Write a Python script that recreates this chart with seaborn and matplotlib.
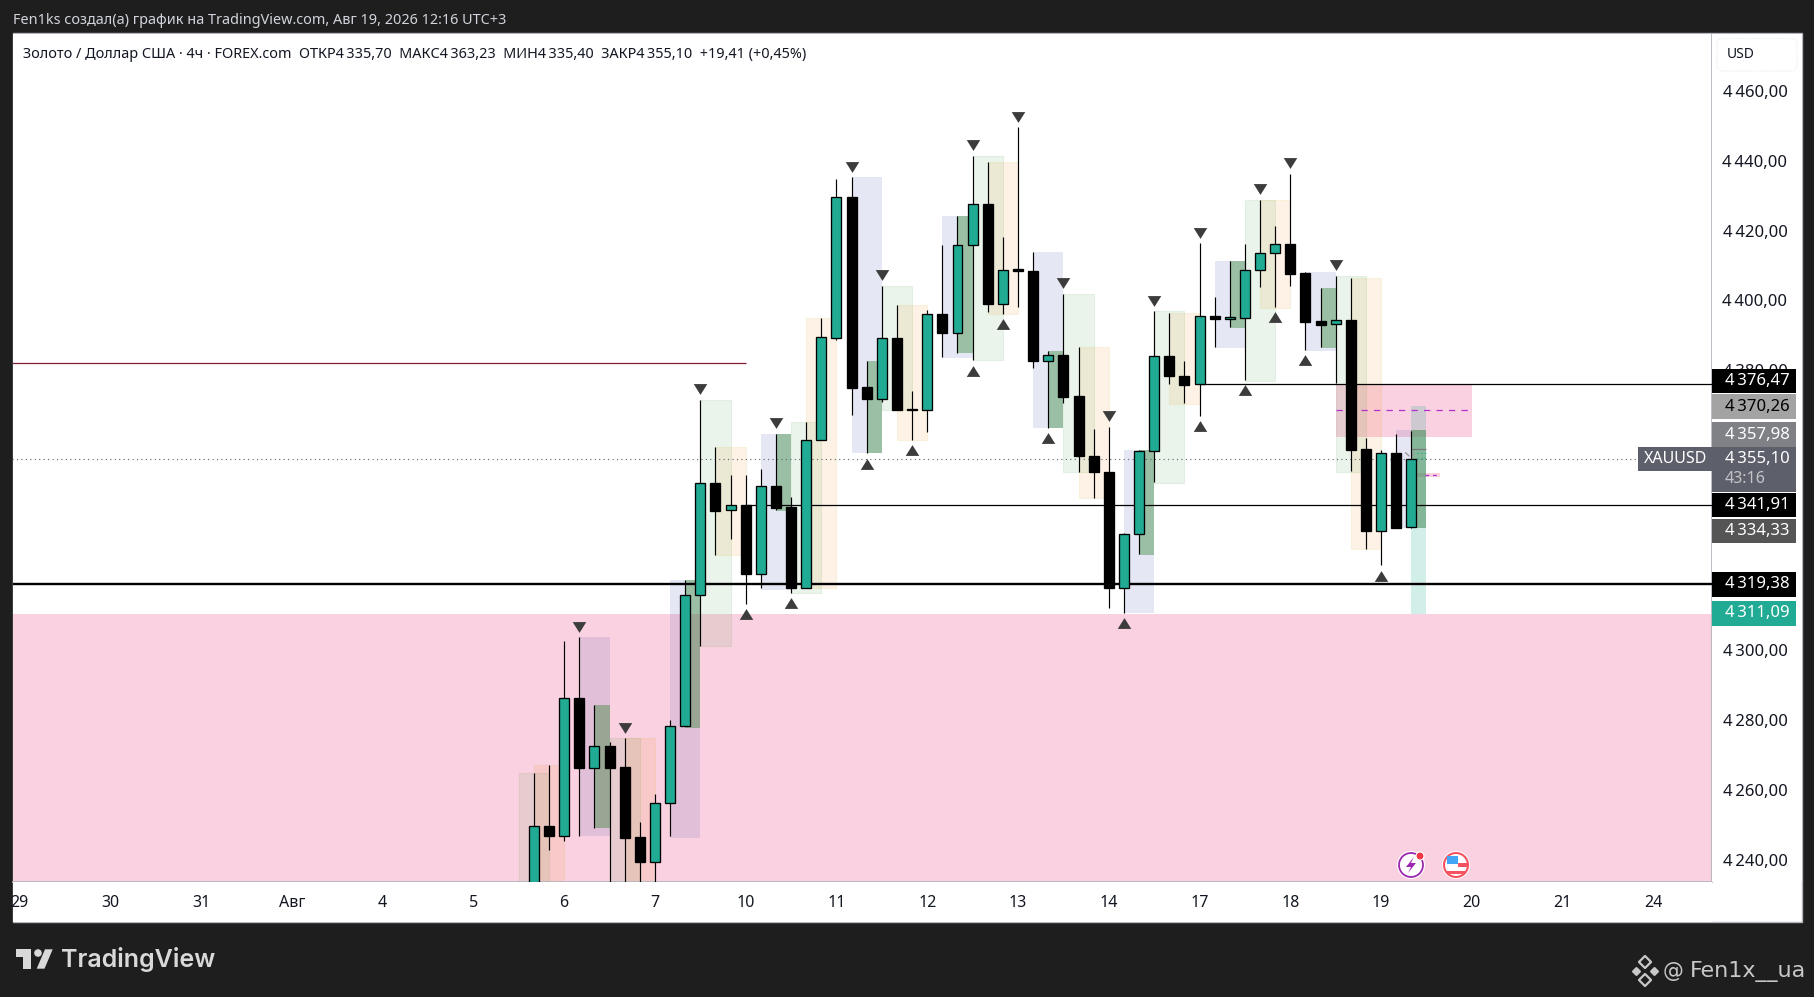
import matplotlib
matplotlib.use("Agg")
import matplotlib.pyplot as plt
from matplotlib.patches import Rectangle, Circle, Polygon, FancyBboxPatch
from matplotlib.transforms import ScaledTranslation
import seaborn as sns

# candles, 4h bars, first one sits at bar index 34
first_bar = 34
opens = [4228.0, 4250.1, 4247.2, 4286.7, 4266.9, 4273.0, 4267.0, 4247.0, 4240.0, 4256.7,
         4278.7, 4316.2, 4348.2, 4340.5, 4341.9, 4322.3, 4347.3, 4341.4, 4318.1, 4360.5,
         4389.8, 4430.0, 4375.7, 4372.4, 4389.6, 4369.4, 4369.1, 4396.5, 4391.2, 4416.2,
         4427.9, 4399.5, 4409.3, 4408.8, 4383.2, 4384.8, 4373.1, 4356.1, 4351.5, 4318.1,
         4333.6, 4357.3, 4384.5, 4378.9, 4376.5, 4396.0, 4395.0, 4395.5, 4409.1, 4413.9,
         4416.5, 4408.2, 4394.5, 4393.6, 4394.8, 4358.0, 4334.4, 4356.9, 4335.70]
highs = [4265.3, 4267.7, 4303.1, 4304.2, 4284.8, 4274.2, 4275.3, 4251.3, 4259.3, 4280.5,
         4320.5, 4372.0, 4358.5, 4350.6, 4350.6, 4352.3, 4362.3, 4344.3, 4365.6, 4395.4,
         4435.1, 4435.7, 4383.0, 4404.6, 4399.2, 4374.5, 4397.7, 4416.3, 4424.6, 4441.8,
         4440.0, 4418.6, 4450.0, 4414.2, 4385.9, 4402.3, 4387.2, 4363.7, 4364.3, 4334.0,
         4357.7, 4397.4, 4396.8, 4383.2, 4416.8, 4401.4, 4411.7, 4416.6, 4429.2, 4421.7,
         4436.6, 4408.5, 4404.0, 4407.5, 4406.9, 4361.1, 4357.7, 4362.3, 4363.23]
lows = [4225.0, 4243.2, 4246.0, 4247.4, 4249.6, 4225.0, 4225.0, 4228.0, 4230.0, 4247.2,
        4278.7, 4301.7, 4327.7, 4332.3, 4313.7, 4318.1, 4340.5, 4316.9, 4318.1, 4360.5,
        4389.2, 4367.7, 4356.8, 4371.5, 4369.2, 4360.6, 4362.7, 4384.3, 4385.4, 4383.4,
        4397.0, 4396.7, 4398.7, 4381.1, 4364.1, 4371.1, 4351.4, 4344.1, 4312.6, 4311.2,
        4328.0, 4348.4, 4376.6, 4371.1, 4367.5, 4387.2, 4392.9, 4377.7, 4404.4, 4398.7,
        4404.7, 4386.3, 4387.1, 4376.9, 4351.7, 4329.5, 4324.8, 4335.5, 4335.40]
closes = [4250.1, 4247.2, 4286.7, 4266.9, 4273.0, 4266.9, 4246.9, 4240.0, 4256.7, 4278.7,
          4316.2, 4348.2, 4340.3, 4341.9, 4322.3, 4347.3, 4341.1, 4318.1, 4360.5, 4389.9,
          4430.0, 4375.5, 4372.4, 4389.6, 4369.2, 4369.1, 4396.5, 4391.2, 4416.2, 4427.9,
          4399.5, 4409.1, 4408.9, 4383.2, 4384.8, 4372.9, 4356.1, 4351.5, 4318.1, 4333.6,
          4357.3, 4384.5, 4378.7, 4376.4, 4395.9, 4395.0, 4395.7, 4409.1, 4413.9, 4416.5,
          4408.1, 4394.4, 4393.5, 4394.8, 4357.8, 4334.4, 4356.8, 4335.5, 4355.10]

# swing markers, bar index
swing_high_bars = [37, 40, 45, 50, 55, 57, 63, 66, 69, 72, 75, 78, 82, 84, 87]
swing_low_bars = [48, 51, 56, 59, 63, 65, 68, 73, 78, 81, 83, 85, 90]

# shaded boxes: start bar, end bar, top price, bottom price
lavender_boxes = [(37, 39, 4304.2, 4247.2), (43, 45, 4320.5, 4246.9), (49, 51, 4362.3, 4317.8),
                  (55, 57, 4435.7, 4356.7), (61, 63, 4424.6, 4384.1), (67, 69, 4414.3, 4364.1),
                  (73, 75, 4357.7, 4311.1), (79, 81, 4411.7, 4386.9), (85, 87, 4408.6, 4386.1),
                  (91, 93, 4363.4, 4335.3)]
green_boxes = [(38, 39, 4284.8, 4249.6), (44, 45, 4320.5, 4278.3), (50, 51, 4362.3, 4340.3),
               (56, 57, 4383.0, 4356.7), (62, 63, 4424.6, 4385.4), (68, 69, 4385.9, 4364.1),
               (74, 75, 4357.7, 4327.8), (80, 81, 4411.7, 4392.7), (86, 87, 4404.0, 4386.9),
               (92, 93, 4363.4, 4335.3)]
mint_boxes = [(33, 35, 4265.4, 4225.0), (39, 41, 4275.3, 4225.0), (45, 47, 4372.0, 4301.7),
              (51, 53, 4365.6, 4316.7), (57, 59, 4404.6, 4369.1), (63, 65, 4441.8, 4383.4),
              (69, 71, 4402.2, 4351.3), (75, 77, 4397.4, 4348.2), (81, 83, 4429.2, 4377.5),
              (87, 89, 4407.5, 4351.5)]
cream_boxes = [(34, 36, 4267.7, 4225.0), (40, 42, 4275.3, 4225.0), (46, 48, 4358.5, 4327.6),
               (52, 54, 4395.4, 4318.2), (58, 60, 4399.2, 4360.5), (64, 66, 4440.0, 4396.5),
               (70, 72, 4387.2, 4343.9), (76, 78, 4396.8, 4370.9), (82, 84, 4429.2, 4398.4),
               (88, 90, 4406.9, 4329.3)]

# price scale tags: value, where the scale stacks it, background, text colour
price_tags = [(4376.47, 4377.4, "#000000", "#ffffff"), (4370.26, 4370.1, "#a3a3a3", "#000000"),
              (4357.98, 4362.1, "#7f8187", "#ffffff"), (4341.91, 4341.9, "#000000", "#ffffff"),
              (4334.33, 4334.5, "#555555", "#ffffff"), (4319.38, 4319.3, "#000000", "#ffffff"),
              (4311.09, 4311.0, "#22ab94", "#ffffff")]
last_price = 4355.10
price_ticks = [4240, 4260, 4280, 4300, 4380, 4400, 4420, 4440, 4460]
day_labels = ["29", "30", "31", "Авг", "4", "5", "6", "7", "10", "11", "12", "13", "14",
              "17", "18", "19", "20", "21", "24"]

BG = "#1e1e1e"
TEAL = "#22ab94"
GRID = "#b2b5be"
W, H = 1815, 997
DOWN_TRI = [(-1, 0.8), (1, 0.8), (0, -0.8)]
UP_TRI = [(-1, -0.8), (1, -0.8), (0, 0.8)]


def fig_rect(x0, y0, x1, y1):
    # pixel box (top-left origin) to figure fractions
    return [x0 / W, 1 - y1 / H, (x1 - x0) / W, (y1 - y0) / H]


def price_str(p):
    s = f"{p:.2f}".replace(".", ",")
    return s[0] + "\u2009" + s[1:]


def add_boxes(ax, boxes, color, alpha, edge=None):
    for b in boxes:
        ax.add_patch(Rectangle((b[0], b[3]), b[1] - b[0], b[2] - b[3], facecolor=color, alpha=alpha,
                               edgecolor=edge, linewidth=0.8 if edge else 0, zorder=2))


sns.set_theme(style="white")
plt.rcParams["font.family"] = ["Noto Sans", "DejaVu Sans"]

fig = plt.figure(figsize=(W / 100, H / 100), dpi=100, facecolor=BG)
fig.add_artist(Rectangle((13 / W, 1 - 921.7 / H), (1801.7 - 13) / W, (921.7 - 33.5) / H, facecolor="white",
                         edgecolor=GRID, linewidth=1, transform=fig.transFigure, zorder=-1))

ax = fig.add_axes(fig_rect(13, 34, 1712.5, 882))
ax_price = fig.add_axes(fig_rect(1712.5, 34, 1801.7, 882), sharey=ax)
ax_time = fig.add_axes(fig_rect(13, 882, 1712.5, 921.7), sharex=ax)
ax.set_xlim(-0.436, 111.91)
ax.set_ylim(4234.19, 4476.61)

# zones
ax.add_patch(Rectangle((-1, 4200), 120, 110.8, facecolor="#fad1e0", linewidth=0, zorder=1))
ax.add_patch(Rectangle((87, 4361.3), 9, 15.17, facecolor="#fad1e0", linewidth=0, zorder=1))
ax.add_patch(Rectangle((92.4, 4349.9), 1.5, 1.3, facecolor="#fad1e0", linewidth=0, zorder=1))
add_boxes(ax, lavender_boxes, "#05239b", 0.1)
add_boxes(ax, mint_boxes, "#379b41", 0.1, "#379b41")
add_boxes(ax, cream_boxes, "#f58700", 0.1, "#c8b400")
ax.add_patch(Rectangle((92, 4310.8), 1, 59.46, facecolor=TEAL, alpha=0.2, linewidth=0, zorder=2))
add_boxes(ax, green_boxes, "#2d822d", 0.4)

# levels
ax.hlines(4382.5, -0.5, 48, color="#7f1f2f", linewidth=0.9, zorder=3)
ax.hlines(4376.47, 78, 112, color="black", linewidth=0.9, zorder=3)
ax.hlines(4341.91, 48, 112, color="black", linewidth=0.9, zorder=3)
ax.hlines(4319.38, -0.5, 112, color="black", linewidth=1.7, zorder=3)
ax.hlines(last_price, -0.5, 107, color="#5d606b", linewidth=0.8, linestyles=(0, (1, 3)), zorder=3)
ax.hlines(4369.0, 87, 96, color="#b030d0", linewidth=0.9, linestyles=(0, (5, 5)), zorder=3)
ax.hlines(4350.5, 92.9, 93.9, color="#b030d0", linewidth=0.9, linestyles=(0, (3, 3)), zorder=3)
ax.hlines(4357.98, 92, 93, color="#777777", linewidth=0.9, zorder=3)
ax.hlines([4356.7, 4355.4], 92.4, 93, color=TEAL, linewidth=0.9, linestyles=(0, (1, 2)), zorder=3)
ax.plot([91.62, 91.85], [4356.9, 4356.0], color="#999999", linewidth=1, zorder=3)
ax.plot([92.2, 92.02], [4356.8, 4355.7], color="#999999", linewidth=1, zorder=3)

# candles
bars = [first_bar + i for i in range(len(opens))]
colors = [TEAL if c >= o else "black" for o, c in zip(opens, closes)]
ax.vlines(bars, lows, highs, color="black", linewidth=0.85, zorder=4)
ax.bar(bars, [abs(c - o) for o, c in zip(opens, closes)], bottom=[min(o, c) for o, c in zip(opens, closes)],
       width=0.66, color=colors, edgecolor="black", linewidth=0.95, zorder=5)

# swing triangles
sns.scatterplot(x=swing_high_bars, y=[highs[b - first_bar] + 3.0 for b in swing_high_bars], marker=DOWN_TRI, s=95,
                color="#3c3c3c", linewidth=0, ax=ax, zorder=6)
sns.scatterplot(x=swing_low_bars, y=[lows[b - first_bar] - 3.0 for b in swing_low_bars], marker=UP_TRI, s=95,
                color="#3c3c3c", linewidth=0, ax=ax, zorder=6)

# symbol tag next to the scale
ax.add_patch(Rectangle((107, last_price - 3.53), 4.91, 7.06, facecolor="#5d606b", linewidth=0, zorder=7))
ax.text(109.45, last_price, "XAUUSD", color="white", fontsize=11.5, ha="center", va="center", zorder=8)

ax.set_xticks([])
ax.set_yticks(price_ticks)
ax.tick_params(axis="y", left=False, labelleft=False)
ax.set_xlabel("")
for s in ax.spines.values():
    s.set_visible(False)
ax.spines["bottom"].set_visible(True)
ax.spines["bottom"].set_color(GRID)
ax.spines["right"].set_visible(True)
ax.spines["right"].set_color(GRID)

# price scale
ax_price.set_xlim(0, 1)
ax_price.set_xticks([])
ax_price.set_yticks(price_ticks)
ax_price.set_yticklabels([price_str(p) for p in price_ticks], fontsize=12, color="#131722")
ax_price.tick_params(axis="y", left=False, labelleft=True, pad=-60)
nudge = ScaledTranslation(0, 1.5 / 100, fig.dpi_scale_trans)
for lbl in ax_price.get_yticklabels():
    lbl.set_transform(lbl.get_transform() + nudge)
for s in ax_price.spines.values():
    s.set_visible(False)
for value, pos, bg, fg in price_tags:
    ax_price.add_patch(Rectangle((0, pos - 3.5), 0.936, 7.0, facecolor=bg, linewidth=0, zorder=5))
    ax_price.text(0.5, pos, price_str(value), color=fg, fontsize=12, fontweight="semibold", ha="center",
                  va="center", zorder=6)
ax_price.add_patch(Rectangle((0, 4345.8), 0.936, 12.7, facecolor="#5d606b", linewidth=0, zorder=5))
ax_price.text(0.5, last_price, price_str(last_price), color="white", fontsize=12, fontweight="semibold",
              ha="center", va="center", zorder=6)
ax_price.text(0.14, 4349.4, "43:16", color="#c4c4c8", fontsize=11.5, fontweight="semibold", ha="left",
              va="center", zorder=6)

# time scale
ax_time.set_xticks([6 * k for k in range(len(day_labels))])
ax_time.set_xticklabels(day_labels, fontsize=11.5, color="#131722")
ax_time.get_xticklabels()[3].set_fontweight("semibold")
ax_time.set_yticks([])
ax_time.tick_params(axis="x", bottom=False, direction="in")
for lbl in ax_time.get_xticklabels():
    lbl.set_verticalalignment("center")
ax_time.tick_params(axis="x", pad=-13.7)
for s in ax_time.spines.values():
    s.set_visible(False)

# overlay in pixels for the picture furniture
over = fig.add_axes([0, 0, 1, 1], zorder=10)
over.set_xlim(0, W)
over.set_ylim(H, 0)
over.axis("off")
over.patch.set_alpha(0)
over.add_patch(Rectangle((0, 880), 12.5, 45, facecolor=BG, linewidth=0))

over.text(13, 21, "Fen1ks создал(а) график на TradingView.com, Авг 19, 2026 12:16 UTC+3", color="#d1d4dc",
          fontsize=10.4, ha="left", va="center")
over.text(23, 54, "Золото / Доллар США · 4ч · FOREX.com  ОТКР4\u2009335,70  МАКС4\u2009363,23  МИН4\u2009335,40  "
          "ЗАКР4\u2009355,10  +19,41 (+0,45%)", color="#131722", fontsize=10.4, ha="left", va="center")

# currency button
over.add_patch(FancyBboxPatch((1719, 40.5), 76, 28.5, boxstyle="round,pad=2,rounding_size=6", facecolor="white",
                              edgecolor="#e4efe6", linewidth=0.8, linestyle=(0, (1, 1))))
over.text(1741, 54.3, "USD", color="#131722", fontsize=10, ha="center", va="center")

# event icons
over.add_patch(Circle((1411, 865), 14, facecolor="white", linewidth=0))
over.add_patch(Circle((1411, 865), 12, facecolor="white", edgecolor="#9c27b0", linewidth=1.3))
over.add_patch(Polygon([(1414, 857), (1406, 867), (1411, 867), (1408, 873), (1416, 863), (1411, 863)],
                       facecolor="#9c27b0", linewidth=0))
over.add_patch(Circle((1420, 856), 4, facecolor="#f23645", edgecolor="white", linewidth=0.8))
over.add_patch(Circle((1456, 865), 14, facecolor="white", linewidth=0))
over.add_patch(Circle((1456, 865), 12, facecolor="white", edgecolor="#f7525f", linewidth=1.5))
over.add_patch(Rectangle((1447, 856), 11, 8, facecolor="#42a5f5", linewidth=0))
over.add_patch(Rectangle((1458, 863), 9, 4, facecolor="#f7525f", linewidth=0))
over.add_patch(Rectangle((1447, 871), 18, 2.5, facecolor="#f7525f", linewidth=0))

# footer, logo and handle
logo = "#d9d9d9"
over.add_patch(Polygon([(15.7, 949.3), (31, 949.3), (31, 968.7), (22.7, 968.7), (22.7, 957), (15.7, 957)],
                       facecolor=logo, linewidth=0))
over.add_patch(Circle((38, 953), 3.8, facecolor=logo, linewidth=0))
over.add_patch(Polygon([(45, 949.3), (52.7, 949.3), (44.5, 968.7), (36.7, 968.7)], facecolor=logo, linewidth=0))
over.text(61, 959, "TradingView", color=logo, fontsize=18, fontweight="semibold", family="Inter", ha="left", va="center")

for dx, dy, size in [(0, -9, 38), (-9, 0, 12), (9, 0, 12), (0, 9, 38)]:
    over.scatter(1645 + dx, 971 + dy, marker="D", s=size, facecolor="none" if size > 20 else "#c8c8c8",
                 edgecolor="#c8c8c8", linewidth=1.6)
over.text(1673, 971, "@", color="#c8c8c8", fontsize=15, ha="center", va="center", family="DejaVu Sans")
over.text(1690, 971, "Fen1x__ua", color="#c8c8c8", fontsize=16, ha="left", va="center", family="DejaVu Sans")

fig.savefig("out.png", dpi=100, facecolor=BG)
